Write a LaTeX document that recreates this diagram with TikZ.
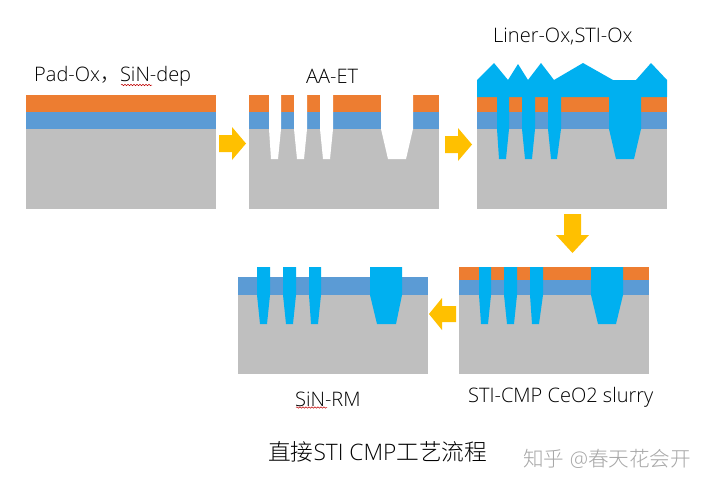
\documentclass[tikz,border=0pt]{standalone}
\usepackage{fontspec}
\setmainfont{Open Sans Light}[Scale=1]
\newfontfamily\cjk{Noto Sans CJK SC Light}[Scale=1]
\usetikzlibrary{decorations.pathmorphing}
\definecolor{cOr}{HTML}{ED7D31}
\definecolor{cBl}{HTML}{5B9BD5}
\definecolor{cGr}{HTML}{BFBFBF}
\definecolor{cCy}{HTML}{00B0F0}
\definecolor{cAr}{HTML}{FFC000}
\tikzset{
  x=1pt,y=-1pt,
  nitride/.style={fill=cOr,draw=none},
  oxide/.style={fill=cBl,draw=none},
  silicon/.style={fill=cGr,draw=none},
  fillox/.style={fill=cCy,draw=none},
  etched/.style={fill=white,draw=none},
  flowarrow/.style={fill=cAr,draw=none},
  lab/.style={font=\fontsize{20}{24}\selectfont,text=black,inner sep=0pt,anchor=west},
  squig/.style={draw=red!75!black,line width=0.5pt,decorate,decoration={snake,amplitude=0.7pt,segment length=3pt}}
}
\begin{document}
\begin{tikzpicture}
\useasboundingbox (0,0) rectangle (708,487);
\fill[white] (0,0) rectangle (708,487);
% panel 1
\fill[silicon] (26,129) rectangle (216,209);
\fill[oxide] (26,112) rectangle (216,129);
\fill[nitride] (26,95) rectangle (216,112);
% panel 2
\fill[silicon] (249,129) rectangle (439,209);
\fill[oxide] (249,112) rectangle (439,129);
\fill[nitride] (249,95) rectangle (439,112);
\fill[etched] (269,95) -- (281,95) -- (281,129) -- (278,159) -- (271,159) -- (269,129) -- cycle;
\fill[etched] (294,95) -- (307,95) -- (307,129) -- (304,159) -- (297,159) -- (294,129) -- cycle;
\fill[etched] (320,95) -- (333,95) -- (333,129) -- (330,159) -- (323,159) -- (320,129) -- cycle;
\fill[etched] (381,95) -- (413,95) -- (413,129) -- (406,159) -- (388,159) -- (381,129) -- cycle;
% panel 3
\fill[silicon] (477,129) rectangle (667,209);
\fill[oxide] (477,112) rectangle (667,129);
\fill[nitride] (477,97) rectangle (667,112);
\fill[fillox] (477,97) -- (477,80) -- (494,63) -- (508,80) -- (518,64) -- (528,80) -- (541,63) -- (554,80) -- (583,63) -- (613,80) -- (636,80) -- (651,63) -- (667,80) -- (667,97) -- cycle;
\fill[fillox] (497,97) -- (509,97) -- (509,129) -- (506,159) -- (499,159) -- (497,129) -- cycle;
\fill[fillox] (522,97) -- (535,97) -- (535,129) -- (532,159) -- (525,159) -- (522,129) -- cycle;
\fill[fillox] (548,97) -- (561,97) -- (561,129) -- (557,159) -- (551,159) -- (548,129) -- cycle;
\fill[fillox] (609,97) -- (641,97) -- (641,129) -- (634,159) -- (616,159) -- (609,129) -- cycle;
% panel 4
\fill[silicon] (459,295) rectangle (649,374);
\fill[oxide] (459,280) rectangle (649,295);
\fill[nitride] (459,267) rectangle (649,280);
\fill[fillox] (479,267) -- (491,267) -- (491,295) -- (488,324) -- (481,324) -- (479,295) -- cycle;
\fill[fillox] (504,267) -- (517,267) -- (517,295) -- (514,324) -- (507,324) -- (504,295) -- cycle;
\fill[fillox] (530,267) -- (543,267) -- (543,295) -- (539,324) -- (532,324) -- (530,295) -- cycle;
\fill[fillox] (591,267) -- (623,267) -- (623,295) -- (616,324) -- (598,324) -- (591,295) -- cycle;
% panel 5
\fill[silicon] (238,295) rectangle (428,374);
\fill[oxide] (238,277) rectangle (428,295);
\fill[fillox] (257,267) -- (270,267) -- (270,295) -- (267,324) -- (260,324) -- (257,295) -- cycle;
\fill[fillox] (283,267) -- (296,267) -- (296,295) -- (293,324) -- (286,324) -- (283,295) -- cycle;
\fill[fillox] (309,267) -- (321,267) -- (321,295) -- (318,324) -- (311,324) -- (309,295) -- cycle;
\fill[fillox] (370,267) -- (402,267) -- (402,295) -- (396,324) -- (377,324) -- (370,295) -- cycle;
% arrows
\fill[flowarrow] (219,135) -- (232,135) -- (232,127) -- (246,143.5) -- (232,160) -- (232,152) -- (219,152) -- cycle;
\fill[flowarrow] (445,136) -- (458,136) -- (458,128) -- (472,144.5) -- (458,161) -- (458,153) -- (445,153) -- cycle;
\fill[flowarrow] (564,214) -- (581,214) -- (581,235) -- (589,235) -- (572.5,253) -- (556,235) -- (564,235) -- cycle;
\fill[flowarrow] (456,306) -- (442,306) -- (442,298) -- (429,314) -- (442,330) -- (442,322) -- (456,322) -- cycle;
% labels
\node[lab] (l1) at (34,76) {Pad-Ox{\cjk，}SiN-dep};
\node[lab] (l2) at (306,76) {AA-ET};
\node[lab] (l3) at (493,37) {Liner-Ox,STI-Ox};
\node[lab] (l4) at (468,397) {STI-CMP CeO2 slurry};
\node[lab] (l5) at (295,399) {SiN-RM};
\node[lab,font=\fontsize{22.7}{27}\selectfont] (title) at (268,452) {{\cjk 直接}STI CMP{\cjk 工艺流程}};
\node[lab,font=\fontsize{20.6}{24}\selectfont,text=black!35] (wm) at (523,459) {{\cjk 知乎} @{\cjk 春天花会开}};
\coordinate (s1a) at (121,85); \coordinate (s1b) at (152,85);
\coordinate (s2a) at (296,407.5); \coordinate (s2b) at (327,407.5);
\draw[squig] (s1a) -- (s1b);
\draw[squig] (s2a) -- (s2b);
\end{tikzpicture}
\end{document}
